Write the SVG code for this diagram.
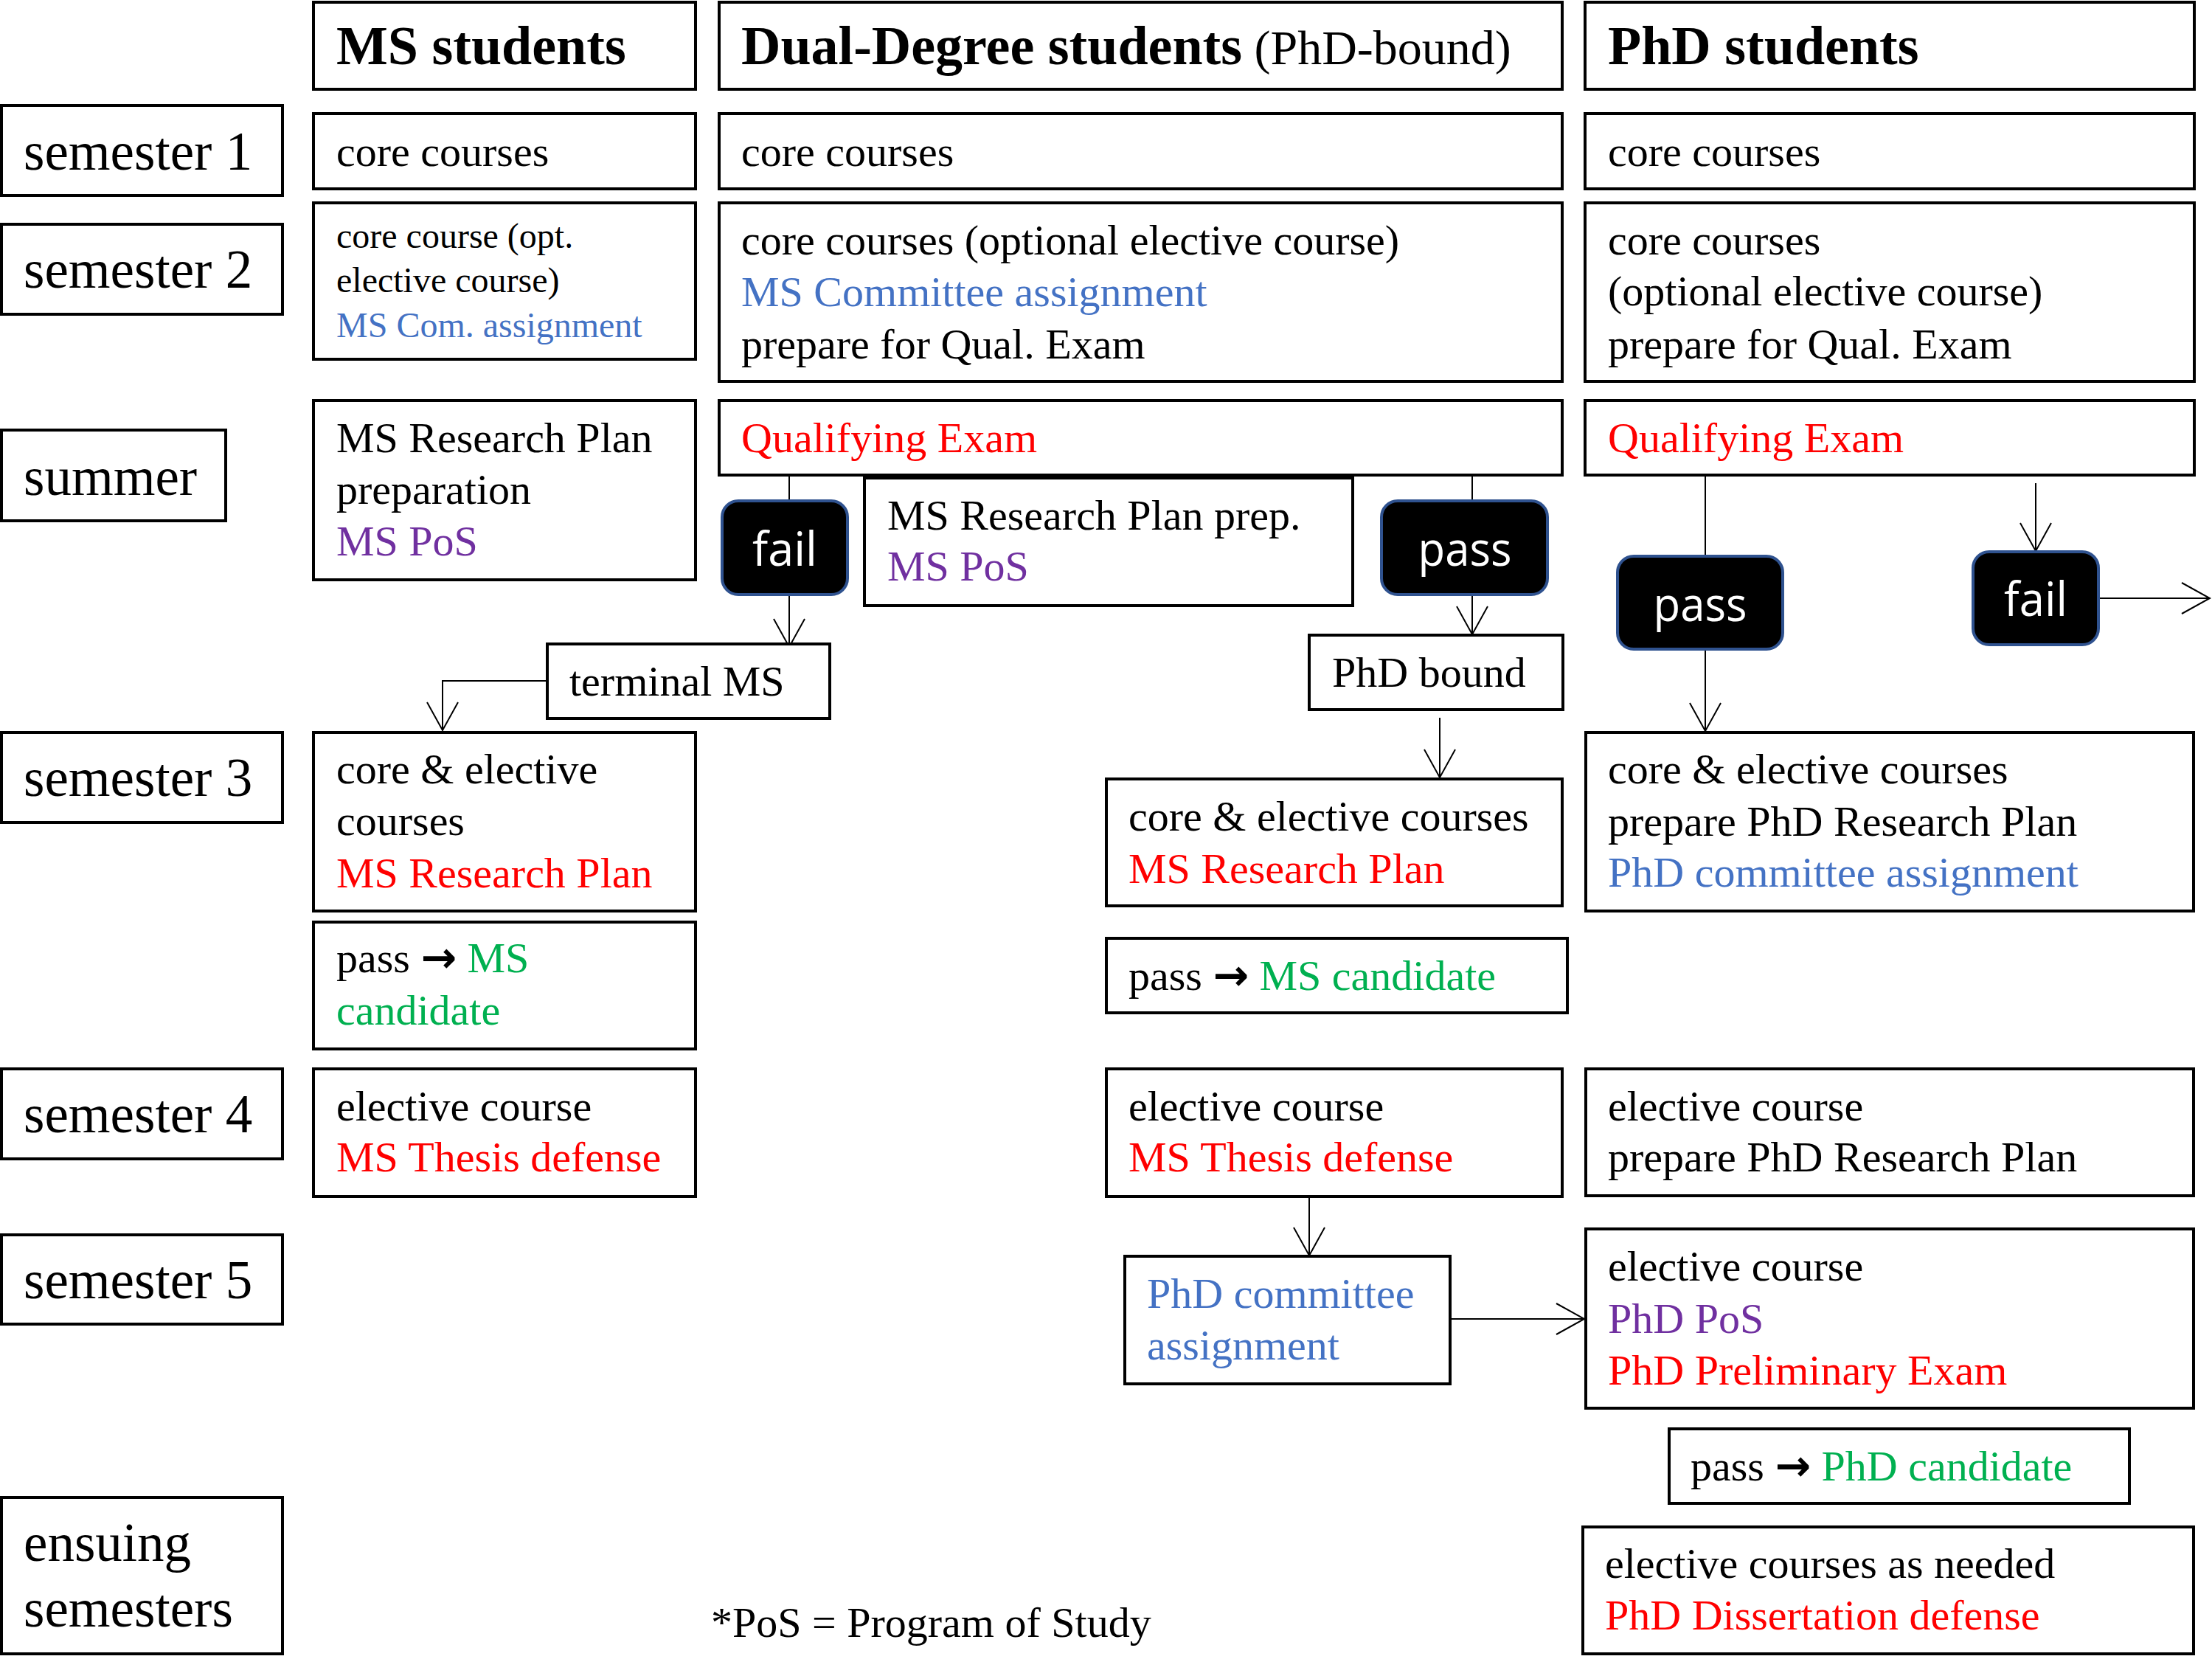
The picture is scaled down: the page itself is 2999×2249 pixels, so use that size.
<svg xmlns="http://www.w3.org/2000/svg" width="2999" height="2249" viewBox="0 0 2999 2249">
<style>
.b{fill:#fff;stroke:#000;stroke-width:4}
.bd{fill:#000;stroke:#2F528F;stroke-width:4}
.t{font-family:"Liberation Serif","Times New Roman",serif;font-size:58px;fill:#000}
.s{font-size:48px}
.lab{font-family:"Liberation Serif","Times New Roman",serif;font-size:73px;fill:#000}
.h{font-family:"Liberation Serif","Times New Roman",serif;font-size:74px;font-weight:bold;fill:#000}
.bt{font-family:"Open Sans","Noto Sans",sans-serif;font-size:64px;fill:#fff;text-anchor:middle}
.r{fill:#FF0000}.bl{fill:#4472C4}.p{fill:#7030A0}.g{fill:#00B050}
.ar{font-family:"DejaVu Sans",sans-serif;font-weight:bold;fill:#000}
.c{fill:none;stroke:#000;stroke-width:2}
</style>
<defs>
<marker id="a" markerUnits="userSpaceOnUse" markerWidth="44" markerHeight="48" refX="40" refY="22" orient="auto" viewBox="0 0 44 48">
<path d="M2,1 L40,22 L2,43" fill="none" stroke="#000" stroke-width="2"/>
</marker>
</defs>

<g id="labels">
<g id="lab-sem1"><rect class="b" x="2" y="143" width="381" height="122"/><text class="lab" x="32" y="230">semester 1</text></g>
<g id="lab-sem2"><rect class="b" x="2" y="304" width="381" height="122"/><text class="lab" x="32" y="390">semester 2</text></g>
<g id="lab-summer"><rect class="b" x="2" y="583" width="304" height="123"/><text class="lab" x="32" y="671">summer</text></g>
<g id="lab-sem3"><rect class="b" x="2" y="993" width="381" height="122"/><text class="lab" x="32" y="1079">semester 3</text></g>
<g id="lab-sem4"><rect class="b" x="2" y="1449" width="381" height="122"/><text class="lab" x="32" y="1535">semester 4</text></g>
<g id="lab-sem5"><rect class="b" x="2" y="1674" width="381" height="121"/><text class="lab" x="32" y="1760">semester 5</text></g>
<g id="lab-ensuing"><rect class="b" x="2" y="2030" width="381" height="212"/><text class="lab" x="32" y="2116">ensuing</text><text class="lab" x="32" y="2205">semesters</text></g>
</g>

<g id="headers">
<g id="hdr-ms"><rect class="b" x="425" y="3" width="518" height="118"/><text class="h" x="456" y="87">MS students</text></g>
<g id="hdr-dual"><rect class="b" x="975" y="3" width="1143" height="118"/><text class="h" x="1005" y="87">Dual-Degree students<tspan font-weight="normal" font-size="66"> (PhD-bound)</tspan></text></g>
<g id="hdr-phd"><rect class="b" x="2149" y="3" width="826" height="118"/><text class="h" x="2180" y="87">PhD students</text></g>
</g>

<g id="connectors">
<line class="c" x1="1070" y1="637" x2="1070" y2="679"/>
<line class="c" x1="1070" y1="806" x2="1070" y2="877" marker-end="url(#a)"/>
<line class="c" x1="1996" y1="644" x2="1996" y2="679"/>
<line class="c" x1="1996" y1="806" x2="1996" y2="860" marker-end="url(#a)"/>
<polyline class="c" points="742,923 600,923 600,990" marker-end="url(#a)"/>
<line class="c" x1="1952" y1="973" x2="1952" y2="1054" marker-end="url(#a)"/>
<line class="c" x1="2312" y1="644" x2="2312" y2="754"/>
<line class="c" x1="2312" y1="880" x2="2312" y2="991" marker-end="url(#a)"/>
<line class="c" x1="2760" y1="655" x2="2760" y2="747" marker-end="url(#a)"/>
<line class="c" x1="2845" y1="811" x2="2996" y2="811" marker-end="url(#a)"/>
<line class="c" x1="1775" y1="1622" x2="1775" y2="1702" marker-end="url(#a)"/>
<line class="c" x1="1966" y1="1788" x2="2148" y2="1788" marker-end="url(#a)"/>
</g>

<g id="ms-col">
<g id="ms-core"><rect class="b" x="425" y="154" width="518" height="102"/><text class="t" x="456" y="225">core courses</text></g>
<g id="ms-sem2"><rect class="b" x="425" y="275" width="518" height="212"/><text class="t s" x="456" y="336">core course (opt.</text><text class="t s" x="456" y="396">elective course)</text><text class="t s bl" x="456" y="457">MS Com. assignment</text></g>
<g id="ms-summer"><rect class="b" x="425" y="543" width="518" height="243"/><text class="t" x="456" y="613">MS Research Plan</text><text class="t" x="456" y="683">preparation</text><text class="t p" x="456" y="753">MS PoS</text></g>
<g id="ms-sem3"><rect class="b" x="425" y="993" width="518" height="242"/><text class="t" x="456" y="1062">core &amp; elective</text><text class="t" x="456" y="1132">courses</text><text class="t r" x="456" y="1203">MS Research Plan</text></g>
<g id="ms-pass"><rect class="b" x="425" y="1250" width="518" height="172"/><text class="t" x="456" y="1318">pass <tspan class="ar">→</tspan> <tspan class="g">MS</tspan></text><text class="t g" x="456" y="1389">candidate</text></g>
<g id="ms-sem4"><rect class="b" x="425" y="1449" width="518" height="173"/><text class="t" x="456" y="1519">elective course</text><text class="t r" x="456" y="1588">MS Thesis defense</text></g>
<g id="terminal-ms"><rect class="b" x="742" y="873" width="383" height="101"/><text class="t" x="772" y="943">terminal MS</text></g>
</g>

<g id="dual-col">
<g id="dual-core"><rect class="b" x="975" y="154" width="1143" height="102"/><text class="t" x="1005" y="225">core courses</text></g>
<g id="dual-sem2"><rect class="b" x="975" y="275" width="1143" height="242"/><text class="t" x="1005" y="345">core courses (optional elective course)</text><text class="t bl" x="1005" y="415">MS Committee assignment</text><text class="t" x="1005" y="486">prepare for Qual. Exam</text></g>
<g id="dual-qe"><rect class="b" x="975" y="543" width="1143" height="101"/><text class="t r" x="1005" y="613">Qualifying Exam</text></g>
<g id="dual-fail"><rect class="bd" x="979" y="679" width="170" height="127" rx="22"/><text class="bt" x="1064" y="767" textLength="88" lengthAdjust="spacingAndGlyphs">fail</text></g>
<g id="dual-msrp"><rect class="b" x="1172" y="648" width="662" height="173"/><text class="t" x="1203" y="718">MS Research Plan prep.</text><text class="t p" x="1203" y="787">MS PoS</text></g>
<g id="dual-pass"><rect class="bd" x="1873" y="679" width="225" height="127" rx="22"/><text class="bt" x="1986" y="767" textLength="127" lengthAdjust="spacingAndGlyphs">pass</text></g>
<g id="phd-bound"><rect class="b" x="1775" y="861" width="344" height="101"/><text class="t" x="1806" y="931">PhD bound</text></g>
<g id="dual-sem3"><rect class="b" x="1500" y="1056" width="618" height="172"/><text class="t" x="1530" y="1126">core &amp; elective courses</text><text class="t r" x="1530" y="1197">MS Research Plan</text></g>
<g id="dual-pass-ms"><rect class="b" x="1500" y="1272" width="625" height="101"/><text class="t" x="1530" y="1342">pass <tspan class="ar">→</tspan> <tspan class="g">MS candidate</tspan></text></g>
<g id="dual-sem4"><rect class="b" x="1500" y="1449" width="618" height="173"/><text class="t" x="1530" y="1519">elective course</text><text class="t r" x="1530" y="1588">MS Thesis defense</text></g>
<g id="dual-phdcom"><rect class="b" x="1525" y="1703" width="441" height="173"/><text class="t bl" x="1555" y="1773">PhD committee</text><text class="t bl" x="1555" y="1843">assignment</text></g>
</g>

<g id="phd-col">
<g id="phd-core"><rect class="b" x="2149" y="154" width="826" height="102"/><text class="t" x="2180" y="225">core courses</text></g>
<g id="phd-sem2"><rect class="b" x="2149" y="275" width="826" height="242"/><text class="t" x="2180" y="345">core courses</text><text class="t" x="2180" y="414">(optional elective course)</text><text class="t" x="2180" y="486">prepare for Qual. Exam</text></g>
<g id="phd-qe"><rect class="b" x="2149" y="543" width="826" height="101"/><text class="t r" x="2180" y="613">Qualifying Exam</text></g>
<g id="phd-pass"><rect class="bd" x="2193" y="754" width="224" height="126" rx="22"/><text class="bt" x="2305" y="842" textLength="127" lengthAdjust="spacingAndGlyphs">pass</text></g>
<g id="phd-fail"><rect class="bd" x="2675" y="748" width="170" height="126" rx="22"/><text class="bt" x="2760" y="835" textLength="86" lengthAdjust="spacingAndGlyphs">fail</text></g>
<g id="phd-sem3"><rect class="b" x="2150" y="993" width="824" height="242"/><text class="t" x="2180" y="1062">core &amp; elective courses</text><text class="t" x="2180" y="1133">prepare PhD Research Plan</text><text class="t bl" x="2180" y="1202">PhD committee assignment</text></g>
<g id="phd-sem4"><rect class="b" x="2150" y="1449" width="824" height="172"/><text class="t" x="2180" y="1519">elective course</text><text class="t" x="2180" y="1588">prepare PhD Research Plan</text></g>
<g id="phd-sem5"><rect class="b" x="2150" y="1666" width="824" height="243"/><text class="t" x="2180" y="1736">elective course</text><text class="t p" x="2180" y="1807">PhD PoS</text><text class="t r" x="2180" y="1877">PhD Preliminary Exam</text></g>
<g id="phd-pass-cand"><rect class="b" x="2263" y="1937" width="624" height="101"/><text class="t" x="2292" y="2007">pass <tspan class="ar">→</tspan> <tspan class="g">PhD candidate</tspan></text></g>
<g id="phd-ensuing"><rect class="b" x="2146" y="2070" width="828" height="172"/><text class="t" x="2176" y="2139">elective courses as needed</text><text class="t r" x="2176" y="2209">PhD Dissertation defense</text></g>
</g>

<g id="footnote"><text class="t" x="964" y="2219">*PoS = Program of Study</text></g>
</svg>
